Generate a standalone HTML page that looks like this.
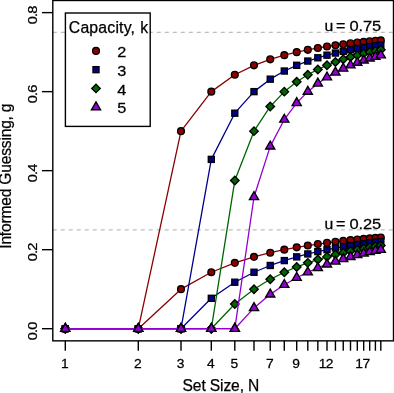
<!DOCTYPE html>
<html><head><meta charset="utf-8"><title>Informed Guessing</title><style>html,body{margin:0;padding:0;background:#fff}svg{display:block}</style></head><body>
<svg width="394" height="393" viewBox="0 0 394 393" font-family="Liberation Sans, Arial, Helvetica, sans-serif" fill="#000">
<rect width="394" height="393" fill="#fff"/>
<defs><clipPath id="c"><rect x="52.8" y="0.5" width="340.7" height="340.35"/></clipPath></defs>
<g clip-path="url(#c)">
<line x1="52.8" x2="393.5" y1="32.37" y2="32.37" stroke="#BEBEBE" stroke-width="1.3" stroke-dasharray="4 4"/>
<line x1="52.8" x2="393.5" y1="229.92" y2="229.92" stroke="#BEBEBE" stroke-width="1.3" stroke-dasharray="4 4"/>
<polyline fill="none"  stroke="#8B0000" stroke-width="1.3" stroke-linejoin="round" points="65.30,328.70 138.30,328.70 181.00,131.15 211.30,91.64 234.80,74.71 254.00,65.30 270.24,59.31 284.30,55.17 296.70,52.13 307.80,49.81 317.84,47.97 327.00,46.49 335.43,45.26 343.24,44.23 350.50,43.35 357.30,42.59 363.68,41.93 369.70,41.35 375.40,40.84 380.80,40.38"/>
<circle cx="65.30" cy="328.70" r="3.40" fill="#8B0000" stroke="#000" stroke-width="1.35"/>
<circle cx="138.30" cy="328.70" r="3.40" fill="#8B0000" stroke="#000" stroke-width="1.35"/>
<circle cx="181.00" cy="131.15" r="3.40" fill="#8B0000" stroke="#000" stroke-width="1.35"/>
<circle cx="211.30" cy="91.64" r="3.40" fill="#8B0000" stroke="#000" stroke-width="1.35"/>
<circle cx="234.80" cy="74.71" r="3.40" fill="#8B0000" stroke="#000" stroke-width="1.35"/>
<circle cx="254.00" cy="65.30" r="3.40" fill="#8B0000" stroke="#000" stroke-width="1.35"/>
<circle cx="270.24" cy="59.31" r="3.40" fill="#8B0000" stroke="#000" stroke-width="1.35"/>
<circle cx="284.30" cy="55.17" r="3.40" fill="#8B0000" stroke="#000" stroke-width="1.35"/>
<circle cx="296.70" cy="52.13" r="3.40" fill="#8B0000" stroke="#000" stroke-width="1.35"/>
<circle cx="307.80" cy="49.81" r="3.40" fill="#8B0000" stroke="#000" stroke-width="1.35"/>
<circle cx="317.84" cy="47.97" r="3.40" fill="#8B0000" stroke="#000" stroke-width="1.35"/>
<circle cx="327.00" cy="46.49" r="3.40" fill="#8B0000" stroke="#000" stroke-width="1.35"/>
<circle cx="335.43" cy="45.26" r="3.40" fill="#8B0000" stroke="#000" stroke-width="1.35"/>
<circle cx="343.24" cy="44.23" r="3.40" fill="#8B0000" stroke="#000" stroke-width="1.35"/>
<circle cx="350.50" cy="43.35" r="3.40" fill="#8B0000" stroke="#000" stroke-width="1.35"/>
<circle cx="357.30" cy="42.59" r="3.40" fill="#8B0000" stroke="#000" stroke-width="1.35"/>
<circle cx="363.68" cy="41.93" r="3.40" fill="#8B0000" stroke="#000" stroke-width="1.35"/>
<circle cx="369.70" cy="41.35" r="3.40" fill="#8B0000" stroke="#000" stroke-width="1.35"/>
<circle cx="375.40" cy="40.84" r="3.40" fill="#8B0000" stroke="#000" stroke-width="1.35"/>
<circle cx="380.80" cy="40.38" r="3.40" fill="#8B0000" stroke="#000" stroke-width="1.35"/>
<polyline fill="none"  stroke="#8B0000" stroke-width="1.3" stroke-linejoin="round" points="65.30,328.70 138.30,328.70 181.00,289.19 211.30,272.26 234.80,262.85 254.00,256.86 270.24,252.72 284.30,249.68 296.70,247.36 307.80,245.52 317.84,244.04 327.00,242.81 335.43,241.78 343.24,240.90 350.50,240.14 357.30,239.48 363.68,238.90 369.70,238.39 375.40,237.93 380.80,237.52"/>
<circle cx="65.30" cy="328.70" r="3.40" fill="#8B0000" stroke="#000" stroke-width="1.35"/>
<circle cx="138.30" cy="328.70" r="3.40" fill="#8B0000" stroke="#000" stroke-width="1.35"/>
<circle cx="181.00" cy="289.19" r="3.40" fill="#8B0000" stroke="#000" stroke-width="1.35"/>
<circle cx="211.30" cy="272.26" r="3.40" fill="#8B0000" stroke="#000" stroke-width="1.35"/>
<circle cx="234.80" cy="262.85" r="3.40" fill="#8B0000" stroke="#000" stroke-width="1.35"/>
<circle cx="254.00" cy="256.86" r="3.40" fill="#8B0000" stroke="#000" stroke-width="1.35"/>
<circle cx="270.24" cy="252.72" r="3.40" fill="#8B0000" stroke="#000" stroke-width="1.35"/>
<circle cx="284.30" cy="249.68" r="3.40" fill="#8B0000" stroke="#000" stroke-width="1.35"/>
<circle cx="296.70" cy="247.36" r="3.40" fill="#8B0000" stroke="#000" stroke-width="1.35"/>
<circle cx="307.80" cy="245.52" r="3.40" fill="#8B0000" stroke="#000" stroke-width="1.35"/>
<circle cx="317.84" cy="244.04" r="3.40" fill="#8B0000" stroke="#000" stroke-width="1.35"/>
<circle cx="327.00" cy="242.81" r="3.40" fill="#8B0000" stroke="#000" stroke-width="1.35"/>
<circle cx="335.43" cy="241.78" r="3.40" fill="#8B0000" stroke="#000" stroke-width="1.35"/>
<circle cx="343.24" cy="240.90" r="3.40" fill="#8B0000" stroke="#000" stroke-width="1.35"/>
<circle cx="350.50" cy="240.14" r="3.40" fill="#8B0000" stroke="#000" stroke-width="1.35"/>
<circle cx="357.30" cy="239.48" r="3.40" fill="#8B0000" stroke="#000" stroke-width="1.35"/>
<circle cx="363.68" cy="238.90" r="3.40" fill="#8B0000" stroke="#000" stroke-width="1.35"/>
<circle cx="369.70" cy="238.39" r="3.40" fill="#8B0000" stroke="#000" stroke-width="1.35"/>
<circle cx="375.40" cy="237.93" r="3.40" fill="#8B0000" stroke="#000" stroke-width="1.35"/>
<circle cx="380.80" cy="237.52" r="3.40" fill="#8B0000" stroke="#000" stroke-width="1.35"/>
<polyline fill="none"  stroke="#00008B" stroke-width="1.3" stroke-linejoin="round" points="65.30,328.70 138.30,328.70 181.00,328.70 211.30,159.37 234.80,113.19 254.00,91.64 270.24,79.16 284.30,71.03 296.70,65.30 307.80,61.05 317.84,57.77 327.00,55.17 335.43,53.05 343.24,51.29 350.50,49.81 357.30,48.54 363.68,47.44 369.70,46.49 375.40,45.64 380.80,44.90"/>
<rect x="62.29" y="325.69" width="6.03" height="6.03" fill="#00008B" stroke="#000" stroke-width="1.35"/>
<rect x="135.29" y="325.69" width="6.03" height="6.03" fill="#00008B" stroke="#000" stroke-width="1.35"/>
<rect x="177.99" y="325.69" width="6.03" height="6.03" fill="#00008B" stroke="#000" stroke-width="1.35"/>
<rect x="208.29" y="156.36" width="6.03" height="6.03" fill="#00008B" stroke="#000" stroke-width="1.35"/>
<rect x="231.79" y="110.18" width="6.03" height="6.03" fill="#00008B" stroke="#000" stroke-width="1.35"/>
<rect x="250.99" y="88.63" width="6.03" height="6.03" fill="#00008B" stroke="#000" stroke-width="1.35"/>
<rect x="267.22" y="76.15" width="6.03" height="6.03" fill="#00008B" stroke="#000" stroke-width="1.35"/>
<rect x="281.29" y="68.01" width="6.03" height="6.03" fill="#00008B" stroke="#000" stroke-width="1.35"/>
<rect x="293.69" y="62.29" width="6.03" height="6.03" fill="#00008B" stroke="#000" stroke-width="1.35"/>
<rect x="304.79" y="58.04" width="6.03" height="6.03" fill="#00008B" stroke="#000" stroke-width="1.35"/>
<rect x="314.82" y="54.76" width="6.03" height="6.03" fill="#00008B" stroke="#000" stroke-width="1.35"/>
<rect x="323.99" y="52.16" width="6.03" height="6.03" fill="#00008B" stroke="#000" stroke-width="1.35"/>
<rect x="332.42" y="50.04" width="6.03" height="6.03" fill="#00008B" stroke="#000" stroke-width="1.35"/>
<rect x="340.22" y="48.28" width="6.03" height="6.03" fill="#00008B" stroke="#000" stroke-width="1.35"/>
<rect x="347.49" y="46.79" width="6.03" height="6.03" fill="#00008B" stroke="#000" stroke-width="1.35"/>
<rect x="354.29" y="45.53" width="6.03" height="6.03" fill="#00008B" stroke="#000" stroke-width="1.35"/>
<rect x="360.67" y="44.43" width="6.03" height="6.03" fill="#00008B" stroke="#000" stroke-width="1.35"/>
<rect x="366.69" y="43.47" width="6.03" height="6.03" fill="#00008B" stroke="#000" stroke-width="1.35"/>
<rect x="372.38" y="42.63" width="6.03" height="6.03" fill="#00008B" stroke="#000" stroke-width="1.35"/>
<rect x="377.79" y="41.88" width="6.03" height="6.03" fill="#00008B" stroke="#000" stroke-width="1.35"/>
<polyline fill="none"  stroke="#00008B" stroke-width="1.3" stroke-linejoin="round" points="65.30,328.70 138.30,328.70 181.00,328.70 211.30,298.31 234.80,282.22 254.00,272.26 270.24,265.48 284.30,260.58 296.70,256.86 307.80,253.95 317.84,251.61 327.00,249.68 335.43,248.07 343.24,246.70 350.50,245.52 357.30,244.50 363.68,243.60 369.70,242.81 375.40,242.10 380.80,241.47"/>
<rect x="62.29" y="325.69" width="6.03" height="6.03" fill="#00008B" stroke="#000" stroke-width="1.35"/>
<rect x="135.29" y="325.69" width="6.03" height="6.03" fill="#00008B" stroke="#000" stroke-width="1.35"/>
<rect x="177.99" y="325.69" width="6.03" height="6.03" fill="#00008B" stroke="#000" stroke-width="1.35"/>
<rect x="208.29" y="295.29" width="6.03" height="6.03" fill="#00008B" stroke="#000" stroke-width="1.35"/>
<rect x="231.79" y="279.20" width="6.03" height="6.03" fill="#00008B" stroke="#000" stroke-width="1.35"/>
<rect x="250.99" y="269.24" width="6.03" height="6.03" fill="#00008B" stroke="#000" stroke-width="1.35"/>
<rect x="267.22" y="262.47" width="6.03" height="6.03" fill="#00008B" stroke="#000" stroke-width="1.35"/>
<rect x="281.29" y="257.57" width="6.03" height="6.03" fill="#00008B" stroke="#000" stroke-width="1.35"/>
<rect x="293.69" y="253.85" width="6.03" height="6.03" fill="#00008B" stroke="#000" stroke-width="1.35"/>
<rect x="304.79" y="250.94" width="6.03" height="6.03" fill="#00008B" stroke="#000" stroke-width="1.35"/>
<rect x="314.82" y="248.59" width="6.03" height="6.03" fill="#00008B" stroke="#000" stroke-width="1.35"/>
<rect x="323.99" y="246.67" width="6.03" height="6.03" fill="#00008B" stroke="#000" stroke-width="1.35"/>
<rect x="332.42" y="245.05" width="6.03" height="6.03" fill="#00008B" stroke="#000" stroke-width="1.35"/>
<rect x="340.22" y="243.69" width="6.03" height="6.03" fill="#00008B" stroke="#000" stroke-width="1.35"/>
<rect x="347.49" y="242.51" width="6.03" height="6.03" fill="#00008B" stroke="#000" stroke-width="1.35"/>
<rect x="354.29" y="241.49" width="6.03" height="6.03" fill="#00008B" stroke="#000" stroke-width="1.35"/>
<rect x="360.67" y="240.59" width="6.03" height="6.03" fill="#00008B" stroke="#000" stroke-width="1.35"/>
<rect x="366.69" y="239.80" width="6.03" height="6.03" fill="#00008B" stroke="#000" stroke-width="1.35"/>
<rect x="372.38" y="239.09" width="6.03" height="6.03" fill="#00008B" stroke="#000" stroke-width="1.35"/>
<rect x="377.79" y="238.46" width="6.03" height="6.03" fill="#00008B" stroke="#000" stroke-width="1.35"/>
<polyline fill="none"  stroke="#006400" stroke-width="1.3" stroke-linejoin="round" points="65.30,328.70 138.30,328.70 181.00,328.70 211.30,328.70 234.80,180.54 254.00,131.15 270.24,106.46 284.30,91.64 296.70,81.76 307.80,74.71 317.84,69.42 327.00,65.30 335.43,62.01 343.24,59.31 350.50,57.07 357.30,55.17 363.68,53.54 369.70,52.13 375.40,50.90 380.80,49.81"/>
<path d="M61.04 328.70L65.30 324.44L69.56 328.70L65.30 332.96Z" fill="#006400" stroke="#000" stroke-width="1.35"/>
<path d="M134.04 328.70L138.30 324.44L142.56 328.70L138.30 332.96Z" fill="#006400" stroke="#000" stroke-width="1.35"/>
<path d="M176.74 328.70L181.00 324.44L185.26 328.70L181.00 332.96Z" fill="#006400" stroke="#000" stroke-width="1.35"/>
<path d="M207.04 328.70L211.30 324.44L215.56 328.70L211.30 332.96Z" fill="#006400" stroke="#000" stroke-width="1.35"/>
<path d="M230.54 180.54L234.80 176.28L239.06 180.54L234.80 184.80Z" fill="#006400" stroke="#000" stroke-width="1.35"/>
<path d="M249.74 131.15L254.00 126.89L258.26 131.15L254.00 135.41Z" fill="#006400" stroke="#000" stroke-width="1.35"/>
<path d="M265.98 106.46L270.24 102.20L274.50 106.46L270.24 110.72Z" fill="#006400" stroke="#000" stroke-width="1.35"/>
<path d="M280.04 91.64L284.30 87.38L288.56 91.64L284.30 95.90Z" fill="#006400" stroke="#000" stroke-width="1.35"/>
<path d="M292.44 81.76L296.70 77.50L300.97 81.76L296.70 86.02Z" fill="#006400" stroke="#000" stroke-width="1.35"/>
<path d="M303.54 74.71L307.80 70.45L312.06 74.71L307.80 78.97Z" fill="#006400" stroke="#000" stroke-width="1.35"/>
<path d="M313.58 69.42L317.84 65.15L322.10 69.42L317.84 73.68Z" fill="#006400" stroke="#000" stroke-width="1.35"/>
<path d="M322.74 65.30L327.00 61.04L331.26 65.30L327.00 69.56Z" fill="#006400" stroke="#000" stroke-width="1.35"/>
<path d="M331.17 62.01L335.43 57.75L339.69 62.01L335.43 66.27Z" fill="#006400" stroke="#000" stroke-width="1.35"/>
<path d="M338.97 59.31L343.24 55.05L347.50 59.31L343.24 63.57Z" fill="#006400" stroke="#000" stroke-width="1.35"/>
<path d="M346.24 57.07L350.50 52.81L354.76 57.07L350.50 61.33Z" fill="#006400" stroke="#000" stroke-width="1.35"/>
<path d="M353.04 55.17L357.30 50.91L361.56 55.17L357.30 59.43Z" fill="#006400" stroke="#000" stroke-width="1.35"/>
<path d="M359.42 53.54L363.68 49.28L367.95 53.54L363.68 57.80Z" fill="#006400" stroke="#000" stroke-width="1.35"/>
<path d="M365.44 52.13L369.70 47.87L373.96 52.13L369.70 56.39Z" fill="#006400" stroke="#000" stroke-width="1.35"/>
<path d="M371.14 50.90L375.40 46.63L379.66 50.90L375.40 55.16Z" fill="#006400" stroke="#000" stroke-width="1.35"/>
<path d="M376.54 49.81L380.80 45.54L385.06 49.81L380.80 54.07Z" fill="#006400" stroke="#000" stroke-width="1.35"/>
<polyline fill="none"  stroke="#006400" stroke-width="1.3" stroke-linejoin="round" points="65.30,328.70 138.30,328.70 181.00,328.70 211.30,328.70 234.80,304.01 254.00,289.19 270.24,279.31 284.30,272.26 296.70,266.97 307.80,262.85 317.84,259.56 327.00,256.86 335.43,254.62 343.24,252.72 350.50,251.09 357.30,249.68 363.68,248.45 369.70,247.36 375.40,246.39 380.80,245.52"/>
<path d="M61.04 328.70L65.30 324.44L69.56 328.70L65.30 332.96Z" fill="#006400" stroke="#000" stroke-width="1.35"/>
<path d="M134.04 328.70L138.30 324.44L142.56 328.70L138.30 332.96Z" fill="#006400" stroke="#000" stroke-width="1.35"/>
<path d="M176.74 328.70L181.00 324.44L185.26 328.70L181.00 332.96Z" fill="#006400" stroke="#000" stroke-width="1.35"/>
<path d="M207.04 328.70L211.30 324.44L215.56 328.70L211.30 332.96Z" fill="#006400" stroke="#000" stroke-width="1.35"/>
<path d="M230.54 304.01L234.80 299.75L239.06 304.01L234.80 308.27Z" fill="#006400" stroke="#000" stroke-width="1.35"/>
<path d="M249.74 289.19L254.00 284.93L258.26 289.19L254.00 293.45Z" fill="#006400" stroke="#000" stroke-width="1.35"/>
<path d="M265.98 279.31L270.24 275.05L274.50 279.31L270.24 283.57Z" fill="#006400" stroke="#000" stroke-width="1.35"/>
<path d="M280.04 272.26L284.30 268.00L288.56 272.26L284.30 276.52Z" fill="#006400" stroke="#000" stroke-width="1.35"/>
<path d="M292.44 266.97L296.70 262.70L300.97 266.97L296.70 271.23Z" fill="#006400" stroke="#000" stroke-width="1.35"/>
<path d="M303.54 262.85L307.80 258.59L312.06 262.85L307.80 267.11Z" fill="#006400" stroke="#000" stroke-width="1.35"/>
<path d="M313.58 259.56L317.84 255.30L322.10 259.56L317.84 263.82Z" fill="#006400" stroke="#000" stroke-width="1.35"/>
<path d="M322.74 256.86L327.00 252.60L331.26 256.86L327.00 261.12Z" fill="#006400" stroke="#000" stroke-width="1.35"/>
<path d="M331.17 254.62L335.43 250.36L339.69 254.62L335.43 258.88Z" fill="#006400" stroke="#000" stroke-width="1.35"/>
<path d="M338.97 252.72L343.24 248.46L347.50 252.72L343.24 256.98Z" fill="#006400" stroke="#000" stroke-width="1.35"/>
<path d="M346.24 251.09L350.50 246.83L354.76 251.09L350.50 255.35Z" fill="#006400" stroke="#000" stroke-width="1.35"/>
<path d="M353.04 249.68L357.30 245.42L361.56 249.68L357.30 253.94Z" fill="#006400" stroke="#000" stroke-width="1.35"/>
<path d="M359.42 248.45L363.68 244.18L367.95 248.45L363.68 252.71Z" fill="#006400" stroke="#000" stroke-width="1.35"/>
<path d="M365.44 247.36L369.70 243.09L373.96 247.36L369.70 251.62Z" fill="#006400" stroke="#000" stroke-width="1.35"/>
<path d="M371.14 246.39L375.40 242.13L379.66 246.39L375.40 250.65Z" fill="#006400" stroke="#000" stroke-width="1.35"/>
<path d="M376.54 245.52L380.80 241.26L385.06 245.52L380.80 249.78Z" fill="#006400" stroke="#000" stroke-width="1.35"/>
<polyline fill="none"  stroke="#9400D3" stroke-width="1.3" stroke-linejoin="round" points="65.30,328.70 138.30,328.70 181.00,328.70 211.30,328.70 234.80,328.70 254.00,197.00 270.24,146.35 284.30,119.53 296.70,102.93 307.80,91.64 317.84,83.47 327.00,77.27 335.43,72.42 343.24,68.51 350.50,65.30 357.30,62.61 363.68,60.33 369.70,58.37 375.40,56.66 380.80,55.17"/>
<path d="M65.30 323.41L69.88 331.34L60.72 331.34Z" fill="#9400D3" stroke="#000" stroke-width="1.35"/>
<path d="M138.30 323.41L142.88 331.34L133.72 331.34Z" fill="#9400D3" stroke="#000" stroke-width="1.35"/>
<path d="M181.00 323.41L185.58 331.34L176.42 331.34Z" fill="#9400D3" stroke="#000" stroke-width="1.35"/>
<path d="M211.30 323.41L215.88 331.34L206.72 331.34Z" fill="#9400D3" stroke="#000" stroke-width="1.35"/>
<path d="M234.80 323.41L239.38 331.34L230.22 331.34Z" fill="#9400D3" stroke="#000" stroke-width="1.35"/>
<path d="M254.00 191.71L258.58 199.64L249.42 199.64Z" fill="#9400D3" stroke="#000" stroke-width="1.35"/>
<path d="M270.24 141.06L274.82 148.99L265.66 148.99Z" fill="#9400D3" stroke="#000" stroke-width="1.35"/>
<path d="M284.30 114.24L288.88 122.17L279.72 122.17Z" fill="#9400D3" stroke="#000" stroke-width="1.35"/>
<path d="M296.70 97.64L301.28 105.57L292.12 105.57Z" fill="#9400D3" stroke="#000" stroke-width="1.35"/>
<path d="M307.80 86.35L312.38 94.28L303.22 94.28Z" fill="#9400D3" stroke="#000" stroke-width="1.35"/>
<path d="M317.84 78.18L322.42 86.11L313.26 86.11Z" fill="#9400D3" stroke="#000" stroke-width="1.35"/>
<path d="M327.00 71.99L331.58 79.92L322.42 79.92Z" fill="#9400D3" stroke="#000" stroke-width="1.35"/>
<path d="M335.43 67.13L340.01 75.06L330.85 75.06Z" fill="#9400D3" stroke="#000" stroke-width="1.35"/>
<path d="M343.24 63.22L347.82 71.16L338.66 71.16Z" fill="#9400D3" stroke="#000" stroke-width="1.35"/>
<path d="M350.50 60.01L355.08 67.94L345.92 67.94Z" fill="#9400D3" stroke="#000" stroke-width="1.35"/>
<path d="M357.30 57.32L361.88 65.26L352.72 65.26Z" fill="#9400D3" stroke="#000" stroke-width="1.35"/>
<path d="M363.68 55.04L368.26 62.97L359.10 62.97Z" fill="#9400D3" stroke="#000" stroke-width="1.35"/>
<path d="M369.70 53.08L374.28 61.01L365.12 61.01Z" fill="#9400D3" stroke="#000" stroke-width="1.35"/>
<path d="M375.40 51.38L379.98 59.31L370.82 59.31Z" fill="#9400D3" stroke="#000" stroke-width="1.35"/>
<path d="M380.80 49.88L385.38 57.81L376.22 57.81Z" fill="#9400D3" stroke="#000" stroke-width="1.35"/>
<polyline fill="none"  stroke="#9400D3" stroke-width="1.3" stroke-linejoin="round" points="65.30,328.70 138.30,328.70 181.00,328.70 211.30,328.70 234.80,328.70 254.00,307.91 270.24,294.34 284.30,284.80 296.70,277.72 307.80,272.26 317.84,267.92 327.00,264.38 335.43,261.45 343.24,258.98 350.50,256.86 357.30,255.04 363.68,253.44 369.70,252.04 375.40,250.79 380.80,249.68"/>
<path d="M65.30 323.41L69.88 331.34L60.72 331.34Z" fill="#9400D3" stroke="#000" stroke-width="1.35"/>
<path d="M138.30 323.41L142.88 331.34L133.72 331.34Z" fill="#9400D3" stroke="#000" stroke-width="1.35"/>
<path d="M181.00 323.41L185.58 331.34L176.42 331.34Z" fill="#9400D3" stroke="#000" stroke-width="1.35"/>
<path d="M211.30 323.41L215.88 331.34L206.72 331.34Z" fill="#9400D3" stroke="#000" stroke-width="1.35"/>
<path d="M234.80 323.41L239.38 331.34L230.22 331.34Z" fill="#9400D3" stroke="#000" stroke-width="1.35"/>
<path d="M254.00 302.62L258.58 310.55L249.42 310.55Z" fill="#9400D3" stroke="#000" stroke-width="1.35"/>
<path d="M270.24 289.06L274.82 296.99L265.66 296.99Z" fill="#9400D3" stroke="#000" stroke-width="1.35"/>
<path d="M284.30 279.51L288.88 287.44L279.72 287.44Z" fill="#9400D3" stroke="#000" stroke-width="1.35"/>
<path d="M296.70 272.43L301.28 280.36L292.12 280.36Z" fill="#9400D3" stroke="#000" stroke-width="1.35"/>
<path d="M307.80 266.97L312.38 274.90L303.22 274.90Z" fill="#9400D3" stroke="#000" stroke-width="1.35"/>
<path d="M317.84 262.63L322.42 270.56L313.26 270.56Z" fill="#9400D3" stroke="#000" stroke-width="1.35"/>
<path d="M327.00 259.09L331.58 267.03L322.42 267.03Z" fill="#9400D3" stroke="#000" stroke-width="1.35"/>
<path d="M335.43 256.16L340.01 264.09L330.85 264.09Z" fill="#9400D3" stroke="#000" stroke-width="1.35"/>
<path d="M343.24 253.69L347.82 261.62L338.66 261.62Z" fill="#9400D3" stroke="#000" stroke-width="1.35"/>
<path d="M350.50 251.58L355.08 259.51L345.92 259.51Z" fill="#9400D3" stroke="#000" stroke-width="1.35"/>
<path d="M357.30 249.75L361.88 257.68L352.72 257.68Z" fill="#9400D3" stroke="#000" stroke-width="1.35"/>
<path d="M363.68 248.16L368.26 256.09L359.10 256.09Z" fill="#9400D3" stroke="#000" stroke-width="1.35"/>
<path d="M369.70 246.75L374.28 254.68L365.12 254.68Z" fill="#9400D3" stroke="#000" stroke-width="1.35"/>
<path d="M375.40 245.51L379.98 253.44L370.82 253.44Z" fill="#9400D3" stroke="#000" stroke-width="1.35"/>
<path d="M380.80 244.39L385.38 252.32L376.22 252.32Z" fill="#9400D3" stroke="#000" stroke-width="1.35"/>
</g>
<text transform="translate(324.60 31.02) scale(1.08 1)" font-size="14.6" text-anchor="start" stroke="#000" stroke-width="0.25">u</text>
<text transform="translate(336.00 31.02) scale(1.1 1)" font-size="14.6" text-anchor="start" stroke="#000" stroke-width="0.25">=</text>
<text transform="translate(349.40 31.02) scale(1.128 1)" font-size="14.6" text-anchor="start" letter-spacing="-0.1" stroke="#000" stroke-width="0.25">0.75</text>
<text transform="translate(324.60 228.57) scale(1.08 1)" font-size="14.6" text-anchor="start" stroke="#000" stroke-width="0.25">u</text>
<text transform="translate(336.00 228.57) scale(1.1 1)" font-size="14.6" text-anchor="start" stroke="#000" stroke-width="0.25">=</text>
<text transform="translate(349.40 228.57) scale(1.128 1)" font-size="14.6" text-anchor="start" letter-spacing="-0.1" stroke="#000" stroke-width="0.25">0.25</text>
<rect x="52.8" y="0.5" width="340.7" height="340.35" fill="none" stroke="#000" stroke-width="1.4"/>
<line x1="65.30" x2="65.30" y1="340.85" y2="350.75" stroke="#000" stroke-width="1.4"/>
<line x1="138.30" x2="138.30" y1="340.85" y2="350.75" stroke="#000" stroke-width="1.4"/>
<line x1="181.00" x2="181.00" y1="340.85" y2="350.75" stroke="#000" stroke-width="1.4"/>
<line x1="211.30" x2="211.30" y1="340.85" y2="350.75" stroke="#000" stroke-width="1.4"/>
<line x1="234.80" x2="234.80" y1="340.85" y2="350.75" stroke="#000" stroke-width="1.4"/>
<line x1="254.00" x2="254.00" y1="340.85" y2="350.75" stroke="#000" stroke-width="1.4"/>
<line x1="270.24" x2="270.24" y1="340.85" y2="350.75" stroke="#000" stroke-width="1.4"/>
<line x1="284.30" x2="284.30" y1="340.85" y2="350.75" stroke="#000" stroke-width="1.4"/>
<line x1="296.70" x2="296.70" y1="340.85" y2="350.75" stroke="#000" stroke-width="1.4"/>
<line x1="307.80" x2="307.80" y1="340.85" y2="350.75" stroke="#000" stroke-width="1.4"/>
<line x1="317.84" x2="317.84" y1="340.85" y2="350.75" stroke="#000" stroke-width="1.4"/>
<line x1="327.00" x2="327.00" y1="340.85" y2="350.75" stroke="#000" stroke-width="1.4"/>
<line x1="335.43" x2="335.43" y1="340.85" y2="350.75" stroke="#000" stroke-width="1.4"/>
<line x1="343.24" x2="343.24" y1="340.85" y2="350.75" stroke="#000" stroke-width="1.4"/>
<line x1="350.50" x2="350.50" y1="340.85" y2="350.75" stroke="#000" stroke-width="1.4"/>
<line x1="357.30" x2="357.30" y1="340.85" y2="350.75" stroke="#000" stroke-width="1.4"/>
<line x1="363.68" x2="363.68" y1="340.85" y2="350.75" stroke="#000" stroke-width="1.4"/>
<line x1="369.70" x2="369.70" y1="340.85" y2="350.75" stroke="#000" stroke-width="1.4"/>
<line x1="375.40" x2="375.40" y1="340.85" y2="350.75" stroke="#000" stroke-width="1.4"/>
<line x1="380.80" x2="380.80" y1="340.85" y2="350.75" stroke="#000" stroke-width="1.4"/>
<text transform="translate(64.55 367.60) scale(1.04 1)" font-size="13.3" text-anchor="middle" letter-spacing="-0.5" stroke="#000" stroke-width="0.25">1</text>
<text transform="translate(137.55 367.60) scale(1.04 1)" font-size="13.3" text-anchor="middle" letter-spacing="-0.5" stroke="#000" stroke-width="0.25">2</text>
<text transform="translate(180.25 367.60) scale(1.04 1)" font-size="13.3" text-anchor="middle" letter-spacing="-0.5" stroke="#000" stroke-width="0.25">3</text>
<text transform="translate(210.55 367.60) scale(1.04 1)" font-size="13.3" text-anchor="middle" letter-spacing="-0.5" stroke="#000" stroke-width="0.25">4</text>
<text transform="translate(234.05 367.60) scale(1.04 1)" font-size="13.3" text-anchor="middle" letter-spacing="-0.5" stroke="#000" stroke-width="0.25">5</text>
<text transform="translate(269.49 367.60) scale(1.04 1)" font-size="13.3" text-anchor="middle" letter-spacing="-0.5" stroke="#000" stroke-width="0.25">7</text>
<text transform="translate(295.95 367.60) scale(1.04 1)" font-size="13.3" text-anchor="middle" letter-spacing="-0.5" stroke="#000" stroke-width="0.25">9</text>
<text transform="translate(325.80 367.60) scale(1.04 1)" font-size="13.3" text-anchor="middle" letter-spacing="-0.5" stroke="#000" stroke-width="0.25">12</text>
<text transform="translate(362.48 367.60) scale(1.04 1)" font-size="13.3" text-anchor="middle" letter-spacing="-0.5" stroke="#000" stroke-width="0.25">17</text>
<line x1="42.0" x2="52.8" y1="328.70" y2="328.70" stroke="#000" stroke-width="1.4"/>
<text transform="translate(37.20 331.40) rotate(-90) scale(1.1 1)" font-size="13.3" text-anchor="middle" letter-spacing="-0.75" stroke="#000" stroke-width="0.25">0.0</text>
<line x1="42.0" x2="52.8" y1="249.68" y2="249.68" stroke="#000" stroke-width="1.4"/>
<text transform="translate(37.20 252.38) rotate(-90) scale(1.1 1)" font-size="13.3" text-anchor="middle" letter-spacing="-0.75" stroke="#000" stroke-width="0.25">0.2</text>
<line x1="42.0" x2="52.8" y1="170.66" y2="170.66" stroke="#000" stroke-width="1.4"/>
<text transform="translate(37.20 173.36) rotate(-90) scale(1.1 1)" font-size="13.3" text-anchor="middle" letter-spacing="-0.75" stroke="#000" stroke-width="0.25">0.4</text>
<line x1="42.0" x2="52.8" y1="91.64" y2="91.64" stroke="#000" stroke-width="1.4"/>
<text transform="translate(37.20 94.34) rotate(-90) scale(1.1 1)" font-size="13.3" text-anchor="middle" letter-spacing="-0.75" stroke="#000" stroke-width="0.25">0.6</text>
<line x1="42.0" x2="52.8" y1="12.62" y2="12.62" stroke="#000" stroke-width="1.4"/>
<text transform="translate(37.20 15.32) rotate(-90) scale(1.1 1)" font-size="13.3" text-anchor="middle" letter-spacing="-0.75" stroke="#000" stroke-width="0.25">0.8</text>
<text transform="translate(220.90 390.70)" font-size="15.6" text-anchor="middle" letter-spacing="-0.12" stroke="#000" stroke-width="0.25">Set Size, N</text>
<text transform="translate(11.00 176.20) rotate(-90)" font-size="15.6" text-anchor="middle" letter-spacing="-0.2" stroke="#000" stroke-width="0.25">Informed Guessing, g</text>
<rect x="65.4" y="13" width="84.8" height="113.4" fill="#fff" stroke="#000" stroke-width="1.4"/>
<text transform="translate(68.80 32.50)" font-size="15.8" text-anchor="start" letter-spacing="0.19" word-spacing="0.6" stroke="#000" stroke-width="0.25">Capacity, k</text>
<circle cx="96.00" cy="50.90" r="3.40" fill="#8B0000" stroke="#000" stroke-width="1.35"/>
<text transform="translate(117.30 57.20) scale(1.05 1)" font-size="15.5" text-anchor="start" stroke="#000" stroke-width="0.25">2</text>
<rect x="92.99" y="66.64" width="6.03" height="6.03" fill="#00008B" stroke="#000" stroke-width="1.35"/>
<text transform="translate(117.30 75.95) scale(1.05 1)" font-size="15.5" text-anchor="start" stroke="#000" stroke-width="0.25">3</text>
<path d="M91.74 88.40L96.00 84.14L100.26 88.40L96.00 92.66Z" fill="#006400" stroke="#000" stroke-width="1.35"/>
<text transform="translate(117.30 94.70) scale(1.05 1)" font-size="15.5" text-anchor="start" stroke="#000" stroke-width="0.25">4</text>
<path d="M96.00 101.86L100.58 109.79L91.42 109.79Z" fill="#9400D3" stroke="#000" stroke-width="1.35"/>
<text transform="translate(117.30 113.45) scale(1.05 1)" font-size="15.5" text-anchor="start" stroke="#000" stroke-width="0.25">5</text>
</svg>
</body></html>
